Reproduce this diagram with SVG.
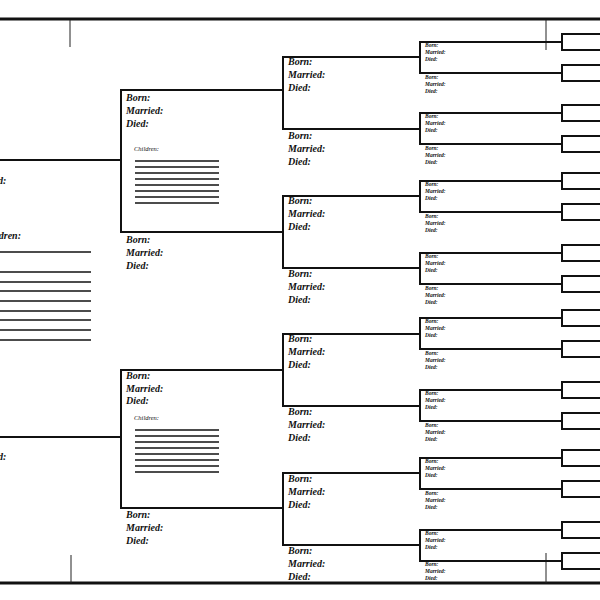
<svg xmlns="http://www.w3.org/2000/svg" width="600" height="600" viewBox="0 0 600 600">
<style>
.b{fill:none;stroke:#111;stroke-width:2}
.f{fill:none;stroke:#111;stroke-width:3}
.t{fill:none;stroke:#222;stroke-width:1}
.c{stroke:#111;stroke-width:1.5}
text{font-family:"Liberation Serif",serif;font-style:italic;font-weight:bold;fill:#111}
.l{font-size:10px}
.s{font-size:6.5px;font-weight:normal}
.m{font-size:5.5px}
</style>
<rect width="600" height="600" fill="#fff"/>
<g id="frame">
<line class="f" x1="0" y1="19" x2="600" y2="19"/>
<line class="f" x1="0" y1="583" x2="600" y2="583"/>
<line class="t" x1="70" y1="20" x2="70" y2="47"/>
<line class="t" x1="71" y1="555" x2="71" y2="583"/>
<line class="t" x1="546" y1="20" x2="546" y2="50"/>
<line class="t" x1="546" y1="553" x2="546" y2="583"/>
</g>
<g id="connectors">
<line class="b" x1="0" y1="160" x2="121" y2="160"/>
<line class="b" x1="0" y1="437" x2="121" y2="437"/>
</g>
<g id="root">
<text class="l" x="-31" y="184">Married:</text>
<text class="l" x="-19" y="239">Children:</text>
<g class="c">
<line x1="0" y1="252" x2="91" y2="252"/><line x1="0" y1="272" x2="91" y2="272"/><line x1="0" y1="282" x2="91" y2="282"/><line x1="0" y1="291" x2="91" y2="291"/><line x1="0" y1="301" x2="91" y2="301"/><line x1="0" y1="311" x2="91" y2="311"/><line x1="0" y1="320" x2="91" y2="320"/><line x1="0" y1="330" x2="91" y2="330"/><line x1="0" y1="340" x2="91" y2="340"/>
</g>
<text class="l" x="-31" y="460">Married:</text>
</g>
<g id="p1">
<path class="b" d="M283,90H121V232H283"/>
<text class="l" x="126" y="101">Born:</text><text class="l" x="126" y="114">Married:</text><text class="l" x="126" y="127">Died:</text>
<text class="s" x="134" y="151">Children:</text>
<g class="c"><line x1="135" y1="161" x2="219" y2="161"/><line x1="135" y1="167" x2="219" y2="167"/><line x1="135" y1="173" x2="219" y2="173"/><line x1="135" y1="179" x2="219" y2="179"/><line x1="135" y1="185" x2="219" y2="185"/><line x1="135" y1="191" x2="219" y2="191"/><line x1="135" y1="197" x2="219" y2="197"/><line x1="135" y1="203" x2="219" y2="203"/></g>
<text class="l" x="126" y="243">Born:</text><text class="l" x="126" y="256">Married:</text><text class="l" x="126" y="269">Died:</text>
</g>
<g id="p2">
<path class="b" d="M283,370H121V508H283"/>
<text class="l" x="126" y="379">Born:</text><text class="l" x="126" y="392">Married:</text><text class="l" x="126" y="404">Died:</text>
<text class="s" x="134" y="420">Children:</text>
<g class="c"><line x1="135" y1="430" x2="219" y2="430"/><line x1="135" y1="436" x2="219" y2="436"/><line x1="135" y1="442" x2="219" y2="442"/><line x1="135" y1="448" x2="219" y2="448"/><line x1="135" y1="454" x2="219" y2="454"/><line x1="135" y1="460" x2="219" y2="460"/><line x1="135" y1="466" x2="219" y2="466"/><line x1="135" y1="472" x2="219" y2="472"/></g>
<text class="l" x="126" y="518">Born:</text><text class="l" x="126" y="531">Married:</text><text class="l" x="126" y="544">Died:</text>
</g>
<g id="g3a"><path class="b" d="M420,57H283V129H420"/>
<text class="l" x="288" y="65">Born:</text><text class="l" x="288" y="78">Married:</text><text class="l" x="288" y="91">Died:</text>
<text class="l" x="288" y="139">Born:</text><text class="l" x="288" y="152">Married:</text><text class="l" x="288" y="165">Died:</text></g>
<g id="g3b"><path class="b" d="M420,196H283V268H420"/>
<text class="l" x="288" y="204">Born:</text><text class="l" x="288" y="217">Married:</text><text class="l" x="288" y="230">Died:</text>
<text class="l" x="288" y="277">Born:</text><text class="l" x="288" y="290">Married:</text><text class="l" x="288" y="303">Died:</text></g>
<g id="g3c"><path class="b" d="M420,334H283V406H420"/>
<text class="l" x="288" y="342">Born:</text><text class="l" x="288" y="355">Married:</text><text class="l" x="288" y="368">Died:</text>
<text class="l" x="288" y="415">Born:</text><text class="l" x="288" y="428">Married:</text><text class="l" x="288" y="441">Died:</text></g>
<g id="g3d"><path class="b" d="M420,473H283V545H420"/>
<text class="l" x="288" y="482">Born:</text><text class="l" x="288" y="495">Married:</text><text class="l" x="288" y="508">Died:</text>
<text class="l" x="288" y="554">Born:</text><text class="l" x="288" y="567">Married:</text><text class="l" x="288" y="580">Died:</text></g>
<g id="g4a"><path class="b" d="M562,42H420V73H562"/><text class="m" x="425" y="47">Born:</text><text class="m" x="425" y="54">Married:</text><text class="m" x="425" y="61">Died:</text><text class="m" x="425" y="79">Born:</text><text class="m" x="425" y="86">Married:</text><text class="m" x="425" y="93">Died:</text></g>
<g id="g4b"><path class="b" d="M562,113H420V144H562"/><text class="m" x="425" y="118">Born:</text><text class="m" x="425" y="125">Married:</text><text class="m" x="425" y="132">Died:</text><text class="m" x="425" y="150">Born:</text><text class="m" x="425" y="157">Married:</text><text class="m" x="425" y="164">Died:</text></g>
<g id="g4c"><path class="b" d="M562,181H420V212H562"/><text class="m" x="425" y="186">Born:</text><text class="m" x="425" y="193">Married:</text><text class="m" x="425" y="200">Died:</text><text class="m" x="425" y="218">Born:</text><text class="m" x="425" y="225">Married:</text><text class="m" x="425" y="232">Died:</text></g>
<g id="g4d"><path class="b" d="M562,253H420V284H562"/><text class="m" x="425" y="258">Born:</text><text class="m" x="425" y="265">Married:</text><text class="m" x="425" y="272">Died:</text><text class="m" x="425" y="290">Born:</text><text class="m" x="425" y="297">Married:</text><text class="m" x="425" y="304">Died:</text></g>
<g id="g4e"><path class="b" d="M562,318H420V349H562"/><text class="m" x="425" y="323">Born:</text><text class="m" x="425" y="330">Married:</text><text class="m" x="425" y="337">Died:</text><text class="m" x="425" y="355">Born:</text><text class="m" x="425" y="362">Married:</text><text class="m" x="425" y="369">Died:</text></g>
<g id="g4f"><path class="b" d="M562,390H420V421H562"/><text class="m" x="425" y="395">Born:</text><text class="m" x="425" y="402">Married:</text><text class="m" x="425" y="409">Died:</text><text class="m" x="425" y="427">Born:</text><text class="m" x="425" y="434">Married:</text><text class="m" x="425" y="441">Died:</text></g>
<g id="g4g"><path class="b" d="M562,458H420V489H562"/><text class="m" x="425" y="463">Born:</text><text class="m" x="425" y="470">Married:</text><text class="m" x="425" y="477">Died:</text><text class="m" x="425" y="495">Born:</text><text class="m" x="425" y="502">Married:</text><text class="m" x="425" y="509">Died:</text></g>
<g id="g4h"><path class="b" d="M562,530H420V561H562"/><text class="m" x="425" y="535">Born:</text><text class="m" x="425" y="542">Married:</text><text class="m" x="425" y="549">Died:</text><text class="m" x="425" y="566">Born:</text><text class="m" x="425" y="573">Married:</text><text class="m" x="425" y="580">Died:</text></g>
<g id="g5" class="b">
<rect x="562" y="34" width="50" height="16"/><rect x="562" y="65" width="50" height="16"/>
<rect x="562" y="105" width="50" height="16"/><rect x="562" y="136" width="50" height="16"/>
<rect x="562" y="173" width="50" height="16"/><rect x="562" y="204" width="50" height="16"/>
<rect x="562" y="245" width="50" height="16"/><rect x="562" y="276" width="50" height="16"/>
<rect x="562" y="310" width="50" height="16"/><rect x="562" y="341" width="50" height="16"/>
<rect x="562" y="382" width="50" height="16"/><rect x="562" y="413" width="50" height="16"/>
<rect x="562" y="450" width="50" height="16"/><rect x="562" y="481" width="50" height="16"/>
<rect x="562" y="522" width="50" height="16"/><rect x="562" y="553" width="50" height="16"/>
</g>
</svg>
